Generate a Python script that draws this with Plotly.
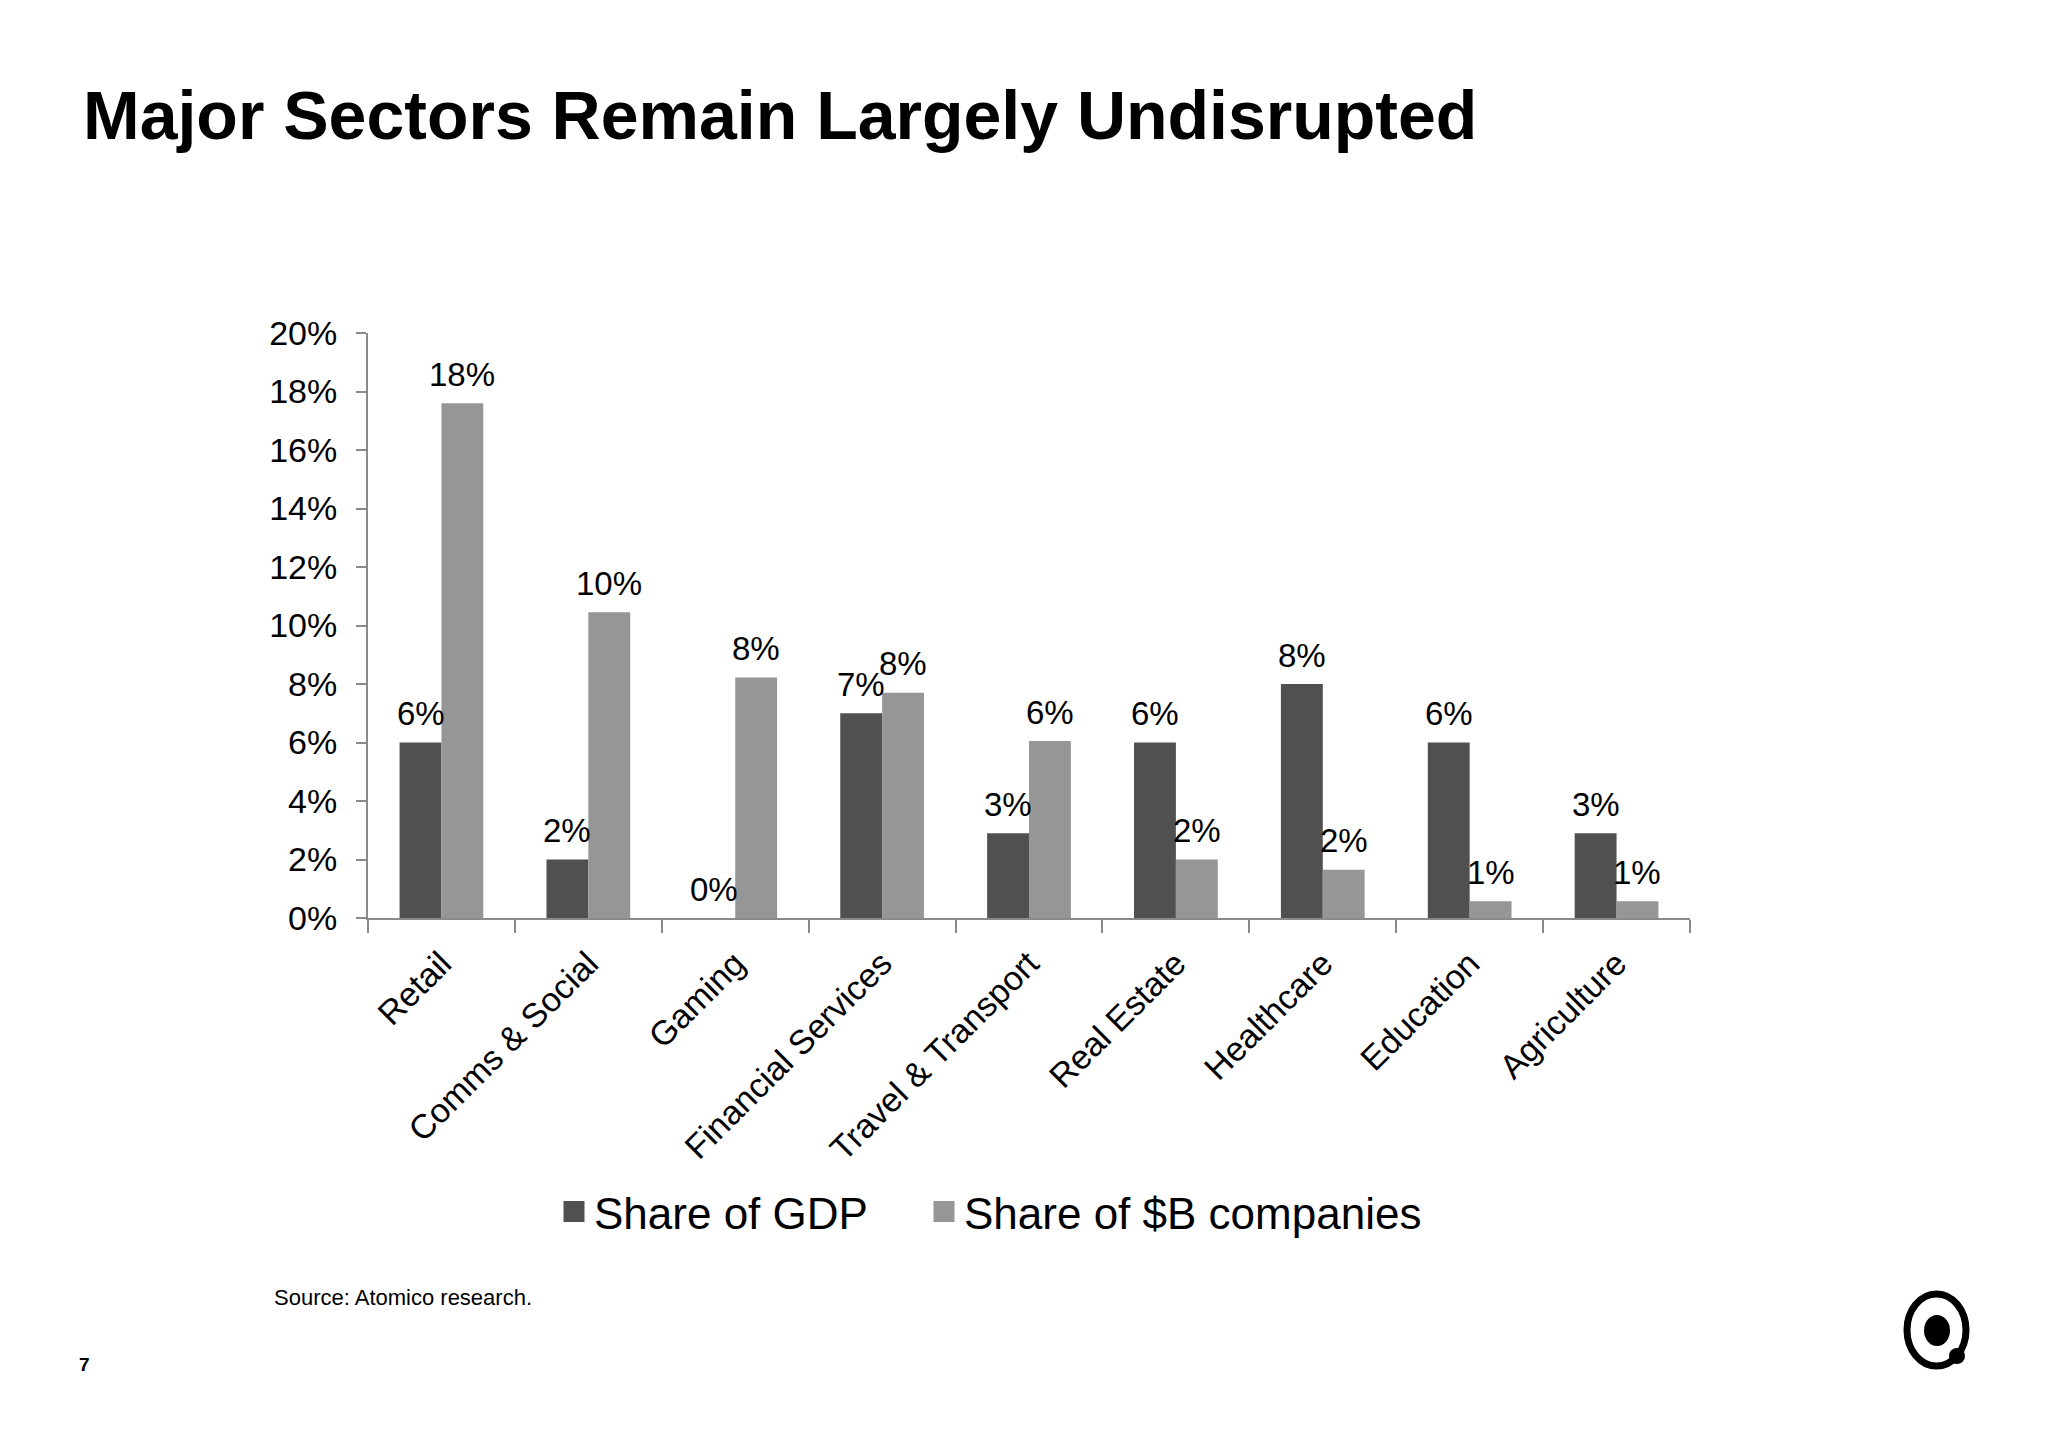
import plotly.graph_objects as go

categories = ["Retail", "Comms & Social", "Gaming", "Financial Services", "Travel & Transport",
              "Real Estate", "Healthcare", "Education", "Agriculture"]
share_gdp = [6.0, 2.0, 0.0, 7.0, 2.9, 6.0, 8.0, 6.0, 2.9]
share_b_companies = [17.6, 10.45, 8.22, 7.7, 6.05, 2.0, 1.65, 0.57, 0.57]
y_ticks = [0, 2, 4, 6, 8, 10, 12, 14, 16, 18, 20]
y_tick_labels = [f"{v}%" for v in y_ticks]
series_names = ["Share of GDP", "Share of $B companies"]

FONT = "Liberation Sans, Arial, Helvetica, sans-serif"
DARK = "#505050"
LIGHT = "#969696"
AXIS = "#8a8a8a"

W, H = 2048, 1448
OFF = 8  # page body offset
X0, X1, Y0, Y1 = 368 - OFF, 1690 - OFF, 333 - OFF, 918 - OFF
L, R, T, B = X0, W - X1, Y0, H - Y1
BARGAP = 0.43


def px_x(p):
    return (p - OFF - X0) / (X1 - X0)


def px_y(p):
    return (Y1 - (p - OFF)) / (Y1 - Y0)


fig = go.Figure()
for i, (name, vals, col) in enumerate([(series_names[0], share_gdp, DARK),
                                       (series_names[1], share_b_companies, LIGHT)]):
    fig.add_trace(go.Bar(
        x=categories, y=vals, name=name, legend="legend" if i == 0 else "legend2",
        marker=dict(color=col, line=dict(width=0)), showlegend=False,
    ))
    fig.add_trace(go.Scatter(
        x=[None], y=[None], mode="markers", name=name,
        legend="legend" if i == 0 else "legend2",
        marker=dict(symbol="square", size=16, color=col, line=dict(color=col, width=5)),
    ))

# value labels above bars
cat_px = (X1 - X0) / len(categories)
bar_px = cat_px * (1 - BARGAP) / 2
annotations = []
for vals, sign in [(share_gdp, -1), (share_b_companies, 1)]:
    for c, v in zip(categories, vals):
        annotations.append(dict(
            x=c, y=v, xref="x", yref="y", text=f"{v:.0f}%", showarrow=False,
            xanchor="center", yanchor="middle", xshift=sign * bar_px / 2, yshift=29,
            font=dict(family=FONT, size=33, color="black"),
        ))

annotations += [
    dict(text="<b>Major Sectors Remain Largely Undisrupted</b>", xref="paper", yref="paper",
         x=px_x(81), y=px_y(115), xanchor="left", yanchor="middle",
         showarrow=False, font=dict(family=FONT, size=68, color="black")),
    dict(text="Source: Atomico research.", xref="paper", yref="paper",
         x=px_x(272), y=px_y(1297), xanchor="left", yanchor="middle",
         showarrow=False, font=dict(family=FONT, size=22, color="black")),
    dict(text="<b>7</b>", xref="paper", yref="paper",
         x=px_x(77), y=px_y(1364), xanchor="left", yanchor="middle",
         showarrow=False, font=dict(family=FONT, size=19, color="black")),
]

legend_common = dict(orientation="h", xanchor="left", yanchor="middle",
                     font=dict(family=FONT, size=44, color="black"), bgcolor="rgba(0,0,0,0)")

fig.update_layout(
    width=W, height=H,
    margin=dict(l=L, r=R, t=T, b=B, autoexpand=False),
    paper_bgcolor="white", plot_bgcolor="white",
    barmode="group", bargap=BARGAP, bargroupgap=0,
    font=dict(family=FONT, color="black"),
    showlegend=True,
    legend=dict(x=px_x(554), y=px_y(1212), **legend_common),
    legend2=dict(x=px_x(924), y=px_y(1212), **legend_common),
    xaxis=dict(
        type="category", showline=True, linecolor=AXIS, linewidth=2,
        ticks="outside", tickson="boundaries", ticklen=13, tickcolor=AXIS, tickwidth=2,
        tickangle=-45, tickfont=dict(family=FONT, size=34, color="black"),
        showgrid=False, zeroline=False, ticklabelstandoff=10,
    ),
    yaxis=dict(
        range=[0, 20], tickvals=y_ticks, ticktext=y_tick_labels,
        showline=True, linecolor=AXIS, linewidth=2,
        ticks="outside", ticklen=10, tickcolor=AXIS, tickwidth=2,
        tickfont=dict(family=FONT, size=34, color="black"),
        showgrid=False, zeroline=False, ticklabelstandoff=12,
    ),
    annotations=annotations,
)

# Logo (decorative)
logo_shapes = [
    dict(type="circle", xref="paper", yref="paper",
         x0=px_x(1907), x1=px_x(1966), y0=px_y(1294), y1=px_y(1366),
         line=dict(color="black", width=7), fillcolor="rgba(0,0,0,0)"),
    dict(type="circle", xref="paper", yref="paper",
         x0=px_x(1924), x1=px_x(1950), y0=px_y(1315), y1=px_y(1346),
         line=dict(color="black", width=0), fillcolor="black"),
    dict(type="circle", xref="paper", yref="paper",
         x0=px_x(1949), x1=px_x(1965), y0=px_y(1348), y1=px_y(1364),
         line=dict(color="black", width=0), fillcolor="black"),
]
fig.update_layout(shapes=logo_shapes)

fig.write_html("out.html")
